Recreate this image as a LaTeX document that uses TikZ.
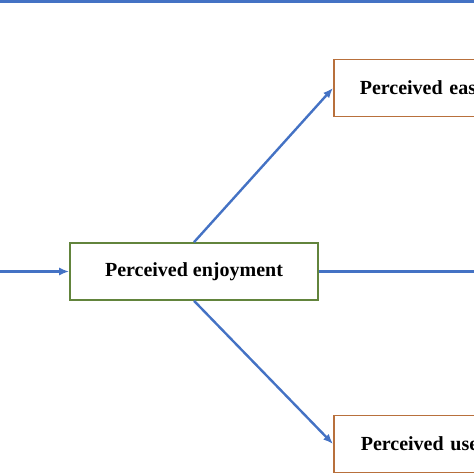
\documentclass[tikz,border=0pt]{standalone}
\usepackage{fontspec}
\setmainfont{Liberation Serif}
\usetikzlibrary{arrows.meta}

\definecolor{linkblue}{HTML}{4472C4}
\definecolor{boxgreen}{HTML}{62843C}
\definecolor{boxbrown}{HTML}{B8703C}

\begin{document}
\begin{tikzpicture}[x=1pt, y=1pt,
        every node/.style={font=\fontsize{20}{24}\selectfont\bfseries},
        factor/.style={draw, line width=1.6pt, fill=white, minimum height=57pt},
        link/.style={linkblue, line width=2.4pt, -{Latex[length=10pt,width=8pt]}}]
        \useasboundingbox (0,0) rectangle (474,474);
        \clip (0,0) rectangle (474,474);

        % Top rule
        \draw[linkblue, line width=3pt] (0,472.5) -- (474,472.5);

        % Boxes
        \node[factor, draw=boxgreen, minimum width=248pt] (enjoy) at (194,202.5) {Perceived enjoyment};
        \node[factor, draw=boxbrown, anchor=west, text width=170pt, align=left, inner xsep=26pt] (ease) at (333,386) {Perceived eas};
        \node[factor, draw=boxbrown, anchor=west, text width=170pt, align=left, inner xsep=27pt] (useful) at (333,30) {Perceived use};

        % Free ends
        \coordinate (inlet) at (-5,202.5);
        \coordinate (outlet) at (480,202.5);

        % Links
        \draw[link] (inlet) -- (enjoy.west);
        \draw[linkblue, line width=2.4pt] (enjoy.east) -- (outlet);
        \draw[link] (enjoy.north) -- (ease.west);
        \draw[link] (enjoy.south) -- (useful.west);
\end{tikzpicture}
\end{document}
